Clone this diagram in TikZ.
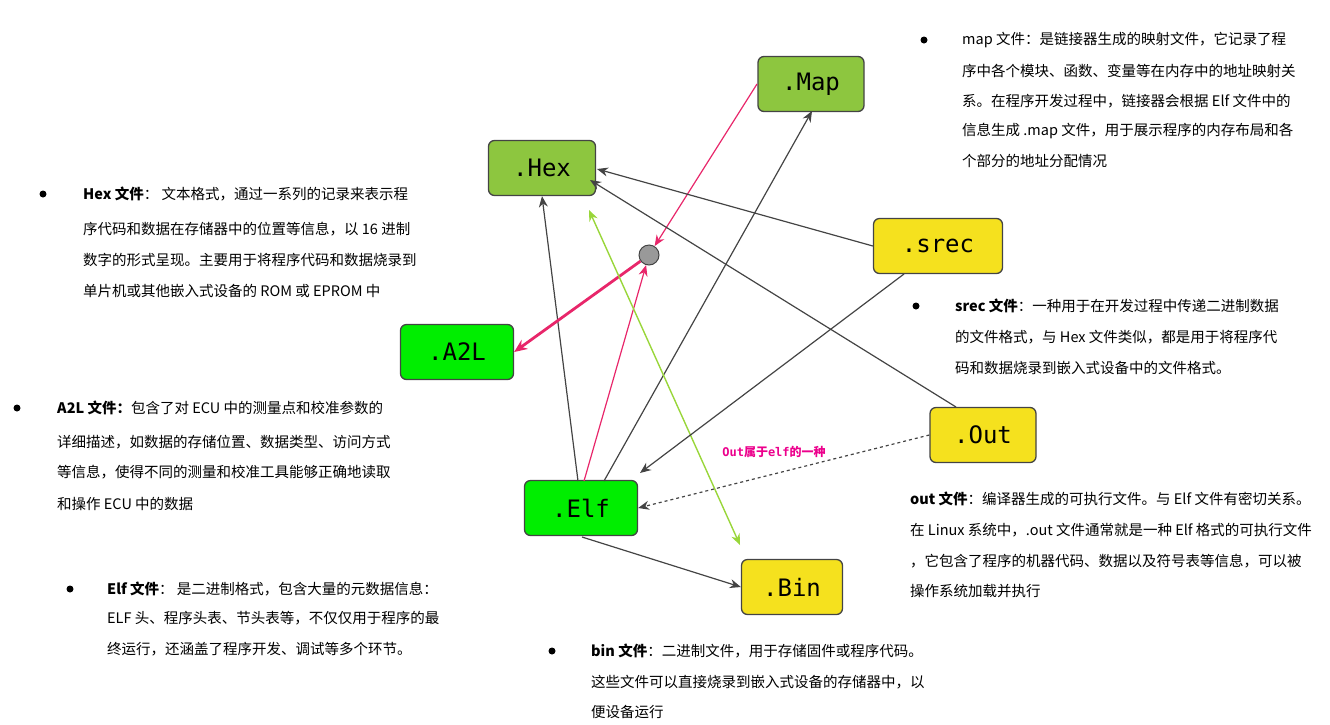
\documentclass[tikz,border=0pt]{standalone}
\usepackage{fontspec}
\setmainfont{Liberation Sans}
\newfontfamily\cjk{Noto Sans CJK SC}
\newfontfamily\monof{DejaVu Sans Mono}
\usetikzlibrary{arrows.meta}
\definecolor{oliveg}{HTML}{8DC63F}
\definecolor{brightg}{HTML}{00EE00}
\definecolor{yel}{HTML}{F5E11E}
\definecolor{pinkr}{HTML}{E8266A}
\definecolor{lgreen}{HTML}{99D63A}
\definecolor{edg}{HTML}{444444}
\begin{document}
\begin{tikzpicture}[x=1pt,y=-1pt,
 box/.style={draw=edg,line width=1.3pt,rounded corners=6pt,minimum height=55pt,font=\monof\fontsize{24}{24}\selectfont,inner sep=0pt},
 txt/.style={anchor=west,inner sep=0pt,font=\cjk\fontsize{14.5}{16}\selectfont},
 bul/.style={circle,fill=black,inner sep=0pt,minimum size=7pt},
 arr/.style={draw=edg,line width=1.2pt,-{Stealth[length=11pt,width=9pt]}}]
\useasboundingbox (0,0) rectangle (1330,724);
\node[box,fill=oliveg,minimum width=106pt] (map) at (811,84) {.Map};
\node[box,fill=oliveg,minimum width=107pt] (hex) at (542,168) {.Hex};
\node[box,fill=yel,minimum width=129pt] (srec) at (938,246) {.srec};
\node[box,fill=brightg,minimum width=113pt] (a2l) at (457,352) {.A2L};
\node[box,fill=yel,minimum width=106pt] (out) at (983,435) {.Out};
\node[box,fill=brightg,minimum width=113pt] (elf) at (581,508) {.Elf};
\node[box,fill=yel,minimum width=101pt] (bin) at (792,587) {.Bin};
\node[circle,draw=edg,fill=gray!80,minimum size=20pt,inner sep=0pt,line width=1pt] (c) at (649,255) {};
\coordinate (ea) at (578,481); \coordinate (eb) at (604,481); \coordinate (ec) at (584,481);
\draw[arr] (ea) -- (hex.south);
\draw[arr] (eb) -- (812,111) coordinate (mb);
\draw[draw=pinkr,line width=1.2pt,-{Stealth[length=11pt,width=9pt]}] (ec) -- (c);
\draw[draw=pinkr,line width=1.2pt,-{Stealth[length=11pt,width=9pt]}] (757,84) coordinate (mw) -- (c);
\draw[draw=pinkr,line width=2.8pt,-{Stealth[length=13pt,width=11pt]}] (c) -- (a2l.east);
\draw[draw=lgreen,line width=1.4pt,{Stealth[length=11pt,width=9pt]}-{Stealth[length=11pt,width=9pt]}] (589,210) coordinate (h1) -- (740,545) coordinate (b1);
\draw[arr] (582,537) coordinate (e2) -- (bin.west);
\draw[arr] (srec.west) -- (597,169) coordinate (h2);
\draw[arr] (956,407) coordinate (o1) -- (590,180) coordinate (h3);
\draw[arr,dashed] (out.west) -- (elf.east);
\node[text=magenta,font=\monof\bfseries\fontsize{12}{14}\selectfont] (lbl) at (774,452) {Out{\cjk 属于}elf{\cjk 的一种}};
\draw[arr] (904,274) coordinate (s1) -- (640,473) coordinate (e3);
% map text
\node[bul] (b1m) at (924,40) {};
\node[txt] (m1) at (962,40) {map 文件：是链接器生成的映射文件，它记录了程};
\node[txt] (m2) at (962,71) {序中各个模块、函数、变量等在内存中的地址映射关};
\node[txt] (m3) at (962,101) {系。在程序开发过程中，链接器会根据 Elf 文件中的};
\node[txt] (m4) at (962,131) {信息生成 .map 文件，用于展示程序的内存布局和各};
\node[txt] (m5) at (962,161) {个部分的地址分配情况};
% hex
\node[bul] (b2) at (43,194) {};
\node[txt] (x1) at (83,194) {\textbf{Hex 文件}： 文本格式，通过一系列的记录来表示程};
\node[txt] (x2) at (83,229) {序代码和数据在存储器中的位置等信息，以 16 进制};
\node[txt] (x3) at (83,260) {数字的形式呈现。主要用于将程序代码和数据烧录到};
\node[txt] (x4) at (83,291) {单片机或其他嵌入式设备的 ROM 或 EPROM 中};
% srec
\node[bul] (b3) at (916,306) {};
\node[txt] (s1t) at (955,306) {\textbf{srec 文件}：一种用于在开发过程中传递二进制数据};
\node[txt] (s2t) at (955,337) {的文件格式，与 Hex 文件类似，都是用于将程序代};
\node[txt] (s3t) at (955,368) {码和数据烧录到嵌入式设备中的文件格式。};
% a2l
\node[bul] (b4) at (17,408) {};
\node[txt] (a1) at (57,408) {\textbf{A2L 文件：}包含了对 ECU 中的测量点和校准参数的};
\node[txt] (a2) at (57,442) {详细描述，如数据的存储位置、数据类型、访问方式};
\node[txt] (a3) at (57,472) {等信息，使得不同的测量和校准工具能够正确地读取};
\node[txt] (a4) at (57,504) {和操作 ECU 中的数据};
% out
\node[txt] (o1t) at (910,499) {\textbf{out 文件}：编译器生成的可执行文件。与 Elf 文件有密切关系。};
\node[txt] (o2t) at (910,530) {在 Linux 系统中，.out 文件通常就是一种 Elf 格式的可执行文件};
\node[txt] (o3t) at (910,561) {，它包含了程序的机器代码、数据以及符号表等信息，可以被};
\node[txt] (o4t) at (910,591) {操作系统加载并执行};
% elf
\node[bul] (b5) at (70,589) {};
\node[txt] (f1) at (107,589) {\textbf{Elf 文件}： 是二进制格式，包含大量的元数据信息：};
\node[txt] (f2) at (107,618) {ELF 头、程序头表、节头表等，不仅仅用于程序的最};
\node[txt] (f3) at (107,649) {终运行，还涵盖了程序开发、调试等多个环节。};
% bin
\node[bul] (b6) at (552,651) {};
\node[txt] (n1) at (591,651) {\textbf{bin 文件}：二进制文件，用于存储固件或程序代码。};
\node[txt] (n2) at (591,682) {这些文件可以直接烧录到嵌入式设备的存储器中，以};
\node[txt] (n3) at (591,712) {便设备运行};
\end{tikzpicture}
\end{document}
